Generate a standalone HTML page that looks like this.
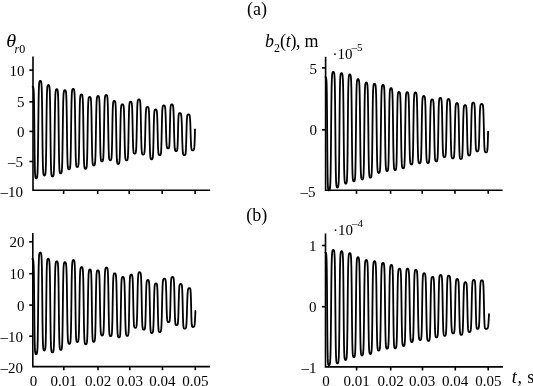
<!DOCTYPE html>
<html><head><meta charset="utf-8"><title>Figure</title>
<style>
html,body{margin:0;padding:0;background:#fff;}
body{width:533px;height:386px;overflow:hidden;}
svg{display:block;}
text{font-family:"Liberation Serif","Times New Roman",serif;fill:#000;}
</style></head><body>
<svg width="533" height="386" viewBox="0 0 533 386">
<defs><filter id="bl" x="-5%" y="-5%" width="110%" height="110%"><feGaussianBlur stdDeviation="0.3"/></filter></defs>
<rect width="533" height="386" fill="#fff"/>
<g filter="url(#bl)">
<g fill="none" stroke="#000" stroke-width="1.6" stroke-linecap="butt">
<path d="M33.0,56.6 V190.3 H210.2"/>
<path d="M29.4,70.1 H33.0"/>
<path d="M29.4,101.8 H33.0"/>
<path d="M29.4,131.4 H33.0"/>
<path d="M29.4,161.5 H33.0"/>
<path d="M63.6,190.3 V193.9"/>
<path d="M97.7,190.3 V193.9"/>
<path d="M129.2,190.3 V193.9"/>
<path d="M162.2,190.3 V193.9"/>
<path d="M195.1,190.3 V193.9"/>
<path d="M325.6,56.8 V190.2 H502.6"/>
<path d="M322.0,67.9 H325.6"/>
<path d="M322.0,129.8 H325.6"/>
<path d="M356.5,190.2 V193.8"/>
<path d="M390.6,190.2 V193.8"/>
<path d="M422.2,190.2 V193.8"/>
<path d="M455.0,190.2 V193.8"/>
<path d="M488.2,190.2 V193.8"/>
<path d="M32.8,233.0 V366.6 H210.0"/>
<path d="M29.2,241.8 H32.8"/>
<path d="M29.2,273.7 H32.8"/>
<path d="M29.2,305.1 H32.8"/>
<path d="M29.2,336.2 H32.8"/>
<path d="M63.8,366.6 V370.2"/>
<path d="M98.0,366.6 V370.2"/>
<path d="M129.8,366.6 V370.2"/>
<path d="M162.5,366.6 V370.2"/>
<path d="M195.3,366.6 V370.2"/>
<path d="M325.5,233.4 V366.9 H502.9"/>
<path d="M321.9,245.5 H325.5"/>
<path d="M321.9,306.7 H325.5"/>
<path d="M356.6,366.9 V370.5"/>
<path d="M390.7,366.9 V370.5"/>
<path d="M422.5,366.9 V370.5"/>
<path d="M455.3,366.9 V370.5"/>
<path d="M488.2,366.9 V370.5"/>
</g>
<g fill="none" stroke="#000" stroke-width="1.8" stroke-linejoin="round" stroke-linecap="round">
<path d="M32.60,86.80 32.80,86.84 33.00,86.99 33.20,87.31 33.40,87.99 33.60,89.45 33.80,92.70 34.00,99.67 34.20,113.01 34.40,132.60 34.60,152.19 34.80,165.53 35.00,172.50 35.20,175.75 35.40,177.21 35.60,177.89 35.80,178.21 36.00,178.36 36.20,178.40 36.43,178.36 36.66,178.20 36.88,177.86 37.11,177.14 37.34,175.57 37.57,172.12 37.79,164.68 38.02,150.48 38.25,129.60 38.48,108.72 38.71,94.52 38.93,87.08 39.16,83.63 39.39,82.06 39.62,81.34 39.84,81.00 40.07,80.84 40.30,80.80 40.53,80.84 40.76,80.99 40.98,81.32 41.21,82.03 41.44,83.54 41.67,86.89 41.89,94.11 42.12,107.89 42.35,128.15 42.58,148.41 42.81,162.19 43.03,169.41 43.26,172.76 43.49,174.27 43.72,174.98 43.94,175.31 44.17,175.46 44.40,175.50 44.62,175.46 44.84,175.32 45.07,175.00 45.29,174.33 45.51,172.88 45.73,169.68 45.96,162.78 46.18,149.61 46.40,130.25 46.62,110.89 46.84,97.72 47.07,90.82 47.29,87.62 47.51,86.17 47.73,85.50 47.96,85.18 48.18,85.04 48.40,85.00 48.63,85.04 48.86,85.19 49.08,85.51 49.31,86.18 49.54,87.65 49.77,90.89 49.99,97.86 50.22,111.18 50.45,130.75 50.68,150.32 50.91,163.64 51.13,170.61 51.36,173.85 51.59,175.32 51.82,175.99 52.04,176.31 52.27,176.46 52.50,176.50 52.74,176.46 52.98,176.32 53.22,176.02 53.46,175.37 53.69,173.97 53.93,170.88 54.17,164.23 54.41,151.52 54.65,132.85 54.89,114.18 55.13,101.47 55.37,94.82 55.61,91.73 55.84,90.33 56.08,89.68 56.32,89.38 56.56,89.24 56.80,89.20 57.01,89.24 57.22,89.37 57.43,89.67 57.64,90.29 57.86,91.64 58.07,94.62 58.28,101.03 58.49,113.29 58.70,131.30 58.91,149.31 59.12,161.57 59.33,167.98 59.54,170.96 59.76,172.31 59.97,172.93 60.18,173.23 60.39,173.36 60.60,173.40 60.84,173.36 61.08,173.23 61.32,172.94 61.56,172.32 61.79,170.99 62.03,168.05 62.27,161.71 62.51,149.60 62.75,131.80 62.99,114.00 63.23,101.89 63.47,95.55 63.71,92.61 63.94,91.28 64.18,90.66 64.42,90.37 64.66,90.24 64.90,90.20 65.13,90.24 65.36,90.36 65.58,90.64 65.81,91.22 66.04,92.49 66.27,95.29 66.49,101.32 66.72,112.83 66.95,129.75 67.18,146.67 67.41,158.18 67.63,164.21 67.86,167.01 68.09,168.28 68.32,168.86 68.54,169.14 68.77,169.26 69.00,169.30 69.23,169.26 69.47,169.14 69.70,168.86 69.93,168.26 70.17,166.97 70.40,164.12 70.63,157.99 70.87,146.27 71.10,129.05 71.33,111.83 71.57,100.11 71.80,93.98 72.03,91.13 72.27,89.84 72.50,89.24 72.73,88.96 72.97,88.84 73.20,88.80 73.43,88.84 73.66,88.96 73.88,89.23 74.11,89.81 74.34,91.07 74.57,93.83 74.79,99.79 75.02,111.17 75.25,127.90 75.48,144.63 75.71,156.01 75.93,161.97 76.16,164.73 76.39,165.99 76.62,166.57 76.84,166.84 77.07,166.96 77.30,167.00 77.53,166.97 77.76,166.85 77.98,166.60 78.21,166.06 78.44,164.90 78.67,162.33 78.89,156.81 79.12,146.26 79.35,130.75 79.58,115.24 79.81,104.69 80.03,99.17 80.26,96.60 80.49,95.44 80.72,94.90 80.94,94.65 81.17,94.53 81.40,94.50 81.63,94.53 81.86,94.65 82.08,94.91 82.31,95.46 82.54,96.66 82.77,99.29 82.99,104.96 83.22,115.79 83.45,131.70 83.68,147.61 83.91,158.44 84.13,164.11 84.36,166.74 84.59,167.94 84.82,168.49 85.04,168.75 85.27,168.87 85.50,168.90 85.73,168.87 85.97,168.75 86.20,168.50 86.43,167.97 86.67,166.81 86.90,164.27 87.13,158.78 87.37,148.30 87.60,132.90 87.83,117.50 88.07,107.02 88.30,101.53 88.53,98.99 88.77,97.83 89.00,97.30 89.23,97.05 89.47,96.93 89.70,96.90 89.93,96.93 90.16,97.04 90.38,97.28 90.61,97.79 90.84,98.89 91.07,101.31 91.29,106.54 91.52,116.53 91.75,131.20 91.98,145.87 92.21,155.86 92.43,161.09 92.66,163.51 92.89,164.61 93.12,165.12 93.34,165.36 93.57,165.47 93.80,165.50 94.04,165.47 94.28,165.36 94.52,165.12 94.76,164.60 94.99,163.49 95.23,161.03 95.47,155.73 95.71,145.62 95.95,130.75 96.19,115.88 96.43,105.77 96.67,100.47 96.91,98.01 97.14,96.90 97.38,96.38 97.62,96.14 97.86,96.03 98.10,96.00 98.31,96.03 98.52,96.13 98.73,96.36 98.94,96.85 99.16,97.89 99.37,100.21 99.58,105.19 99.79,114.71 100.00,128.70 100.21,142.69 100.42,152.21 100.63,157.19 100.84,159.51 101.06,160.55 101.27,161.04 101.48,161.27 101.69,161.37 101.90,161.40 102.14,161.37 102.38,161.27 102.62,161.03 102.86,160.54 103.09,159.48 103.33,157.13 103.57,152.07 103.81,142.40 104.05,128.20 104.29,114.00 104.53,104.33 104.77,99.27 105.01,96.92 105.24,95.86 105.48,95.37 105.72,95.13 105.96,95.03 106.20,95.00 106.43,95.03 106.66,95.13 106.88,95.36 107.11,95.84 107.34,96.89 107.57,99.20 107.79,104.18 108.02,113.68 108.25,127.65 108.48,141.62 108.71,151.12 108.93,156.10 109.16,158.41 109.39,159.46 109.62,159.94 109.84,160.17 110.07,160.27 110.30,160.30 110.52,160.27 110.74,160.18 110.97,159.97 111.19,159.53 111.41,158.58 111.63,156.48 111.86,151.95 112.08,143.31 112.30,130.60 112.52,117.89 112.74,109.25 112.97,104.72 113.19,102.62 113.41,101.67 113.63,101.23 113.86,101.02 114.08,100.93 114.30,100.90 114.52,100.93 114.73,101.03 114.95,101.25 115.17,101.72 115.38,102.73 115.60,104.96 115.82,109.77 116.03,118.95 116.25,132.45 116.47,145.95 116.68,155.13 116.90,159.94 117.12,162.17 117.33,163.18 117.55,163.65 117.77,163.87 117.98,163.97 118.20,164.00 118.43,163.97 118.67,163.88 118.90,163.67 119.13,163.23 119.37,162.27 119.60,160.16 119.83,155.61 120.07,146.92 120.30,134.15 120.53,121.38 120.77,112.69 121.00,108.14 121.23,106.03 121.47,105.07 121.70,104.63 121.93,104.42 122.17,104.33 122.40,104.30 122.63,104.33 122.87,104.41 123.10,104.61 123.33,105.02 123.57,105.92 123.80,107.90 124.03,112.17 124.27,120.32 124.50,132.30 124.73,144.28 124.97,152.43 125.20,156.70 125.43,158.68 125.67,159.58 125.90,159.99 126.13,160.19 126.37,160.27 126.60,160.30 126.82,160.27 127.04,160.18 127.27,159.98 127.49,159.54 127.71,158.60 127.93,156.53 128.16,152.06 128.38,143.53 128.60,131.00 128.82,118.47 129.04,109.94 129.27,105.47 129.49,103.40 129.71,102.46 129.93,102.02 130.16,101.82 130.38,101.73 130.60,101.70 130.83,101.72 131.06,101.81 131.28,101.99 131.51,102.37 131.74,103.21 131.97,105.05 132.19,109.01 132.42,116.58 132.65,127.70 132.88,138.82 133.11,146.39 133.33,150.35 133.56,152.19 133.79,153.03 134.02,153.41 134.24,153.59 134.47,153.68 134.70,153.70 134.93,153.68 135.17,153.59 135.40,153.40 135.63,153.00 135.87,152.13 136.10,150.21 136.33,146.07 136.57,138.17 136.80,126.55 137.03,114.93 137.27,107.03 137.50,102.89 137.73,100.97 137.97,100.10 138.20,99.70 138.43,99.51 138.67,99.42 138.90,99.40 139.13,99.43 139.37,99.51 139.60,99.70 139.83,100.11 140.07,101.00 140.30,102.95 140.53,107.16 140.77,115.19 141.00,127.00 141.23,138.81 141.47,146.84 141.70,151.05 141.93,153.00 142.17,153.89 142.40,154.30 142.63,154.49 142.87,154.57 143.10,154.60 143.34,154.58 143.59,154.50 143.83,154.34 144.08,153.98 144.32,153.22 144.57,151.53 144.81,147.90 145.06,140.95 145.30,130.75 145.54,120.55 145.79,113.60 146.03,109.97 146.28,108.28 146.52,107.52 146.77,107.16 147.01,107.00 147.26,106.92 147.50,106.90 147.73,106.92 147.96,107.01 148.18,107.19 148.41,107.58 148.64,108.42 148.87,110.27 149.09,114.26 149.32,121.89 149.55,133.10 149.78,144.31 150.01,151.94 150.23,155.93 150.46,157.78 150.69,158.62 150.92,159.01 151.14,159.19 151.37,159.28 151.60,159.30 151.82,159.28 152.04,159.20 152.27,159.02 152.49,158.66 152.71,157.86 152.93,156.09 153.16,152.30 153.38,145.05 153.60,134.40 153.82,123.75 154.04,116.50 154.27,112.71 154.49,110.94 154.71,110.14 154.93,109.78 155.16,109.60 155.38,109.52 155.60,109.50 155.83,109.52 156.06,109.59 156.28,109.75 156.51,110.09 156.74,110.82 156.97,112.44 157.19,115.92 157.42,122.57 157.65,132.35 157.88,142.13 158.11,148.78 158.33,152.26 158.56,153.88 158.79,154.61 159.02,154.95 159.24,155.11 159.47,155.18 159.70,155.20 159.93,155.18 160.16,155.10 160.38,154.92 160.61,154.56 160.84,153.76 161.07,151.99 161.29,148.20 161.52,140.95 161.75,130.30 161.98,119.65 162.21,112.40 162.43,108.61 162.66,106.84 162.89,106.04 163.12,105.68 163.34,105.50 163.57,105.42 163.80,105.40 164.04,105.42 164.28,105.49 164.52,105.64 164.76,105.96 164.99,106.65 165.23,108.17 165.47,111.44 165.71,117.70 165.95,126.90 166.19,136.10 166.43,142.36 166.67,145.63 166.91,147.15 167.14,147.84 167.38,148.16 167.62,148.31 167.86,148.38 168.10,148.40 168.31,148.38 168.51,148.31 168.72,148.16 168.92,147.83 169.13,147.13 169.33,145.57 169.54,142.22 169.74,135.81 169.95,126.40 170.16,116.99 170.36,110.58 170.57,107.23 170.77,105.67 170.98,104.97 171.18,104.64 171.39,104.49 171.59,104.42 171.80,104.40 172.04,104.42 172.29,104.49 172.53,104.66 172.78,105.01 173.02,105.76 173.27,107.41 173.51,110.98 173.76,117.79 174.00,127.80 174.24,137.81 174.49,144.62 174.73,148.19 174.98,149.84 175.22,150.59 175.47,150.94 175.71,151.11 175.96,151.18 176.20,151.20 176.40,151.18 176.60,151.12 176.80,150.99 177.00,150.71 177.20,150.10 177.40,148.75 177.60,145.85 177.80,140.30 178.00,132.15 178.20,124.00 178.40,118.45 178.60,115.55 178.80,114.20 179.00,113.59 179.20,113.31 179.40,113.18 179.60,113.12 179.80,113.10 180.06,113.12 180.31,113.19 180.57,113.33 180.82,113.64 181.08,114.32 181.33,115.81 181.59,119.02 181.84,125.14 182.10,134.15 182.36,143.16 182.61,149.28 182.87,152.49 183.12,153.98 183.38,154.66 183.63,154.97 183.89,155.11 184.14,155.18 184.40,155.20 184.62,155.18 184.84,155.12 185.07,154.97 185.29,154.67 185.51,154.02 185.73,152.57 185.96,149.47 186.18,143.53 186.40,134.80 186.62,126.07 186.84,120.13 187.07,117.03 187.29,115.58 187.51,114.93 187.73,114.63 187.96,114.48 188.18,114.42 188.40,114.40 188.64,114.42 188.89,114.47 189.13,114.60 189.38,114.87 189.62,115.44 189.87,116.72 190.11,119.46 190.36,124.70 190.60,132.40 190.84,140.10 191.09,145.34 191.33,148.08 191.58,149.36 191.82,149.93 192.07,150.20 192.31,150.33 192.56,150.38 192.80,150.40 192.92,150.40 193.04,150.38 193.17,150.36 193.29,150.31 193.41,150.26 193.53,150.17 193.66,150.04 193.78,149.86 193.90,149.59 194.02,149.18 194.14,148.59 194.27,147.70 194.39,146.39 194.51,144.50 194.63,141.86 194.76,138.38 194.88,134.13 195.00,129.40"/>
<path d="M325.50,77.00 325.69,77.05 325.88,77.23 326.07,77.63 326.26,78.47 326.44,80.29 326.63,84.30 326.82,92.94 327.01,109.44 327.20,133.70 327.39,157.96 327.58,174.46 327.77,183.10 327.96,187.11 328.14,188.93 328.33,189.77 328.52,190.17 328.71,190.35 328.90,190.40 329.14,190.35 329.39,190.16 329.63,189.74 329.88,188.87 330.12,186.96 330.37,182.77 330.61,173.73 330.86,156.47 331.10,131.10 331.34,105.73 331.59,88.47 331.83,79.43 332.08,75.24 332.32,73.33 332.57,72.46 332.81,72.04 333.06,71.85 333.30,71.80 333.53,71.85 333.76,72.03 333.98,72.44 334.21,73.30 334.44,75.15 334.67,79.25 334.89,88.06 335.12,104.90 335.35,129.65 335.58,154.40 335.81,171.24 336.03,180.05 336.26,184.15 336.49,186.00 336.72,186.86 336.94,187.27 337.17,187.45 337.40,187.50 337.63,187.45 337.86,187.27 338.08,186.87 338.31,186.02 338.54,184.19 338.77,180.14 338.99,171.42 339.22,154.77 339.45,130.30 339.68,105.83 339.91,89.18 340.13,80.46 340.36,76.41 340.59,74.58 340.82,73.73 341.04,73.33 341.27,73.15 341.50,73.10 341.74,73.15 341.98,73.32 342.22,73.71 342.46,74.53 342.69,76.30 342.93,80.22 343.17,88.64 343.41,104.74 343.65,128.40 343.89,152.06 344.13,168.16 344.37,176.58 344.61,180.50 344.84,182.27 345.08,183.09 345.32,183.48 345.56,183.65 345.80,183.70 346.02,183.65 346.24,183.48 346.47,183.10 346.69,182.29 346.91,180.53 347.13,176.67 347.36,168.34 347.58,152.43 347.80,129.05 348.02,105.67 348.24,89.76 348.47,81.43 348.69,77.57 348.91,75.81 349.13,75.00 349.36,74.62 349.58,74.45 349.80,74.40 350.03,74.45 350.26,74.62 350.48,74.99 350.71,75.78 350.94,77.50 351.17,81.29 351.39,89.44 351.62,105.01 351.85,127.90 352.08,150.79 352.31,166.36 352.53,174.51 352.76,178.30 352.99,180.02 353.22,180.81 353.44,181.18 353.67,181.35 353.90,181.40 354.13,181.35 354.36,181.19 354.58,180.83 354.81,180.08 355.04,178.44 355.27,174.82 355.49,167.02 355.72,152.13 355.95,130.25 356.18,108.37 356.41,93.48 356.63,85.68 356.86,82.06 357.09,80.42 357.32,79.67 357.54,79.31 357.77,79.15 358.00,79.10 358.24,79.15 358.48,79.30 358.72,79.65 358.96,80.40 359.19,82.01 359.43,85.56 359.67,93.21 359.91,107.82 360.15,129.30 360.39,150.78 360.63,165.39 360.87,173.04 361.11,176.59 361.34,178.20 361.58,178.95 361.82,179.30 362.06,179.45 362.30,179.50 362.52,179.46 362.74,179.30 362.97,178.96 363.19,178.25 363.41,176.69 363.63,173.26 363.86,165.87 364.08,151.75 364.30,131.00 364.52,110.25 364.74,96.13 364.97,88.74 365.19,85.31 365.41,83.75 365.63,83.04 365.86,82.70 366.08,82.54 366.30,82.50 366.53,82.54 366.76,82.69 366.98,83.03 367.21,83.73 367.44,85.26 367.67,88.63 367.89,95.88 368.12,109.74 368.35,130.10 368.58,150.46 368.81,164.32 369.03,171.57 369.26,174.94 369.49,176.47 369.72,177.17 369.94,177.51 370.17,177.66 370.40,177.70 370.63,177.66 370.86,177.51 371.08,177.18 371.31,176.49 371.54,174.98 371.77,171.66 371.99,164.50 372.22,150.84 372.45,130.75 372.68,110.66 372.91,97.00 373.13,89.84 373.36,86.52 373.59,85.01 373.82,84.32 374.04,83.99 374.27,83.84 374.50,83.80 374.74,83.84 374.98,83.98 375.22,84.29 375.46,84.95 375.69,86.38 375.93,89.54 376.17,96.34 376.41,109.32 376.65,128.40 376.89,147.48 377.13,160.46 377.37,167.26 377.61,170.42 377.84,171.85 378.08,172.51 378.32,172.82 378.56,172.96 378.80,173.00 379.03,172.96 379.27,172.82 379.50,172.51 379.73,171.86 379.97,170.45 380.20,167.33 380.43,160.62 380.67,147.80 380.90,128.95 381.13,110.10 381.37,97.28 381.60,90.57 381.83,87.45 382.07,86.04 382.30,85.39 382.53,85.08 382.77,84.94 383.00,84.90 383.23,84.94 383.46,85.07 383.68,85.38 383.91,86.02 384.14,87.40 384.37,90.45 384.59,97.01 384.82,109.56 385.05,128.00 385.28,146.44 385.51,158.99 385.73,165.55 385.96,168.60 386.19,169.98 386.42,170.62 386.64,170.93 386.87,171.06 387.10,171.10 387.32,171.06 387.53,170.93 387.75,170.64 387.97,170.03 388.18,168.70 388.40,165.76 388.62,159.43 388.83,147.35 389.05,129.60 389.27,111.85 389.48,99.77 389.70,93.44 389.92,90.50 390.13,89.17 390.35,88.56 390.57,88.27 390.78,88.14 391.00,88.10 391.23,88.14 391.47,88.27 391.70,88.55 391.93,89.16 392.17,90.48 392.40,93.38 392.63,99.64 392.87,111.59 393.10,129.15 393.33,146.71 393.57,158.66 393.80,164.92 394.03,167.82 394.27,169.14 394.50,169.75 394.73,170.03 394.97,170.16 395.20,170.20 395.41,170.16 395.61,170.04 395.82,169.77 396.02,169.19 396.23,167.93 396.43,165.16 396.64,159.20 396.84,147.80 397.05,131.05 397.26,114.30 397.46,102.90 397.67,96.94 397.87,94.17 398.08,92.91 398.28,92.33 398.49,92.06 398.69,91.94 398.90,91.90 399.14,91.93 399.38,92.05 399.62,92.32 399.86,92.89 400.09,94.11 400.33,96.82 400.57,102.64 400.81,113.76 401.05,130.10 401.29,146.44 401.53,157.56 401.77,163.38 402.01,166.09 402.24,167.31 402.48,167.88 402.72,168.15 402.96,168.27 403.20,168.30 403.42,168.27 403.64,168.15 403.87,167.88 404.09,167.32 404.31,166.10 404.53,163.40 404.76,157.60 404.98,146.53 405.20,130.25 405.42,113.97 405.64,102.90 405.87,97.10 406.09,94.40 406.31,93.18 406.53,92.62 406.76,92.35 406.98,92.23 407.20,92.20 407.43,92.23 407.67,92.35 407.90,92.60 408.13,93.14 408.37,94.29 408.60,96.85 408.83,102.36 409.07,112.88 409.30,128.35 409.53,143.82 409.77,154.34 410.00,159.85 410.23,162.41 410.47,163.56 410.70,164.10 410.93,164.35 411.17,164.47 411.40,164.50 411.62,164.47 411.84,164.35 412.07,164.10 412.29,163.57 412.51,162.41 412.73,159.86 412.96,154.37 413.18,143.87 413.40,128.45 413.62,113.03 413.84,102.53 414.07,97.04 414.29,94.49 414.51,93.33 414.73,92.80 414.96,92.55 415.18,92.43 415.40,92.40 415.63,92.43 415.87,92.54 416.10,92.79 416.33,93.32 416.57,94.45 416.80,96.96 417.03,102.36 417.27,112.68 417.50,127.85 417.73,143.02 417.97,153.34 418.20,158.74 418.43,161.25 418.67,162.38 418.90,162.91 419.13,163.16 419.37,163.27 419.60,163.30 419.83,163.27 420.07,163.16 420.30,162.93 420.53,162.43 420.77,161.35 421.00,158.97 421.23,153.84 421.47,144.05 421.70,129.65 421.93,115.25 422.17,105.46 422.40,100.33 422.63,97.95 422.87,96.87 423.10,96.37 423.33,96.14 423.57,96.03 423.80,96.00 424.03,96.03 424.26,96.14 424.48,96.37 424.71,96.87 424.94,97.94 425.17,100.32 425.39,105.43 425.62,115.20 425.85,129.55 426.08,143.90 426.31,153.67 426.53,158.78 426.76,161.16 426.99,162.23 427.22,162.73 427.44,162.96 427.67,163.07 427.90,163.10 428.14,163.07 428.38,162.97 428.62,162.75 428.86,162.28 429.09,161.25 429.33,159.00 429.57,154.15 429.81,144.88 430.05,131.25 430.29,117.62 430.53,108.35 430.77,103.50 431.01,101.25 431.24,100.22 431.48,99.75 431.72,99.53 431.96,99.43 432.20,99.40 432.43,99.43 432.66,99.53 432.88,99.74 433.11,100.20 433.34,101.20 433.57,103.39 433.79,108.11 434.02,117.14 434.25,130.40 434.48,143.66 434.71,152.69 434.93,157.41 435.16,159.60 435.39,160.60 435.62,161.06 435.84,161.27 436.07,161.37 436.30,161.40 436.52,161.37 436.74,161.27 436.97,161.05 437.19,160.58 437.41,159.56 437.63,157.31 437.86,152.48 438.08,143.23 438.30,129.65 438.52,116.07 438.74,106.82 438.97,101.99 439.19,99.74 439.41,98.72 439.63,98.25 439.86,98.03 440.08,97.93 440.30,97.90 440.53,97.93 440.76,98.02 440.98,98.23 441.21,98.67 441.44,99.62 441.67,101.71 441.89,106.22 442.12,114.84 442.35,127.50 442.58,140.16 442.81,148.78 443.03,153.29 443.26,155.38 443.49,156.33 443.72,156.77 443.94,156.98 444.17,157.07 444.40,157.10 444.63,157.07 444.86,156.98 445.08,156.78 445.31,156.35 445.54,155.42 445.77,153.36 445.99,148.93 446.22,140.48 446.45,128.05 446.68,115.62 446.91,107.17 447.13,102.74 447.36,100.68 447.59,99.75 447.82,99.32 448.04,99.12 448.27,99.03 448.50,99.00 448.74,99.03 448.98,99.12 449.22,99.33 449.46,99.77 449.69,100.72 449.93,102.82 450.17,107.35 450.41,115.99 450.65,128.70 450.89,141.41 451.13,150.05 451.37,154.58 451.61,156.68 451.84,157.63 452.08,158.07 452.32,158.28 452.56,158.37 452.80,158.40 453.03,158.37 453.27,158.29 453.50,158.09 453.73,157.68 453.97,156.80 454.20,154.84 454.43,150.63 454.67,142.58 454.90,130.75 455.13,118.92 455.37,110.87 455.60,106.66 455.83,104.70 456.07,103.82 456.30,103.41 456.53,103.21 456.77,103.13 457.00,103.10 457.22,103.13 457.43,103.21 457.65,103.41 457.87,103.82 458.08,104.72 458.30,106.70 458.52,110.96 458.73,119.09 458.95,131.05 459.17,143.01 459.38,151.14 459.60,155.40 459.82,157.38 460.03,158.28 460.25,158.69 460.47,158.89 460.68,158.97 460.90,159.00 461.13,158.98 461.37,158.89 461.60,158.70 461.83,158.30 462.07,157.44 462.30,155.53 462.53,151.42 462.77,143.58 463.00,132.05 463.23,120.52 463.47,112.68 463.70,108.57 463.93,106.66 464.17,105.80 464.40,105.40 464.63,105.21 464.87,105.12 465.10,105.10 465.32,105.12 465.54,105.20 465.77,105.38 465.99,105.75 466.21,106.56 466.43,108.34 466.66,112.18 466.88,119.52 467.10,130.30 467.32,141.08 467.54,148.42 467.77,152.26 467.99,154.04 468.21,154.85 468.43,155.22 468.66,155.40 468.88,155.48 469.10,155.50 469.33,155.48 469.57,155.39 469.80,155.21 470.03,154.82 470.27,153.97 470.50,152.10 470.73,148.07 470.97,140.37 471.20,129.05 471.43,117.73 471.67,110.03 471.90,106.00 472.13,104.13 472.37,103.28 472.60,102.89 472.83,102.71 473.07,102.62 473.30,102.60 473.52,102.62 473.73,102.70 473.95,102.87 474.17,103.23 474.38,104.01 474.60,105.74 474.82,109.46 475.03,116.56 475.25,127.00 475.47,137.44 475.68,144.54 475.90,148.26 476.12,149.99 476.33,150.77 476.55,151.13 476.77,151.30 476.98,151.38 477.20,151.40 477.45,151.38 477.70,151.30 477.95,151.14 478.20,150.79 478.45,150.02 478.70,148.34 478.95,144.72 479.20,137.81 479.45,127.65 479.70,117.49 479.95,110.58 480.20,106.96 480.45,105.28 480.70,104.51 480.95,104.16 481.20,104.00 481.45,103.92 481.70,103.90 481.94,103.92 482.18,104.00 482.42,104.17 482.66,104.53 482.89,105.31 483.13,107.02 483.37,110.72 483.61,117.78 483.85,128.15 484.09,138.52 484.33,145.58 484.57,149.28 484.81,150.99 485.04,151.77 485.28,152.13 485.52,152.30 485.76,152.38 486.00,152.40 486.12,152.40 486.23,152.38 486.35,152.36 486.47,152.32 486.58,152.26 486.70,152.17 486.82,152.04 486.93,151.86 487.05,151.59 487.17,151.19 487.28,150.60 487.40,149.72 487.52,148.43 487.63,146.55 487.75,143.94 487.87,140.50 487.98,136.29 488.10,131.60"/>
<path d="M32.40,259.00 32.61,259.04 32.81,259.19 33.02,259.53 33.22,260.23 33.43,261.76 33.63,265.13 33.84,272.38 34.04,286.24 34.25,306.60 34.46,326.96 34.66,340.82 34.87,348.07 35.07,351.44 35.28,352.97 35.48,353.67 35.69,354.01 35.89,354.16 36.10,354.20 36.33,354.15 36.57,353.99 36.80,353.64 37.03,352.88 37.27,351.25 37.50,347.65 37.73,339.91 37.97,325.10 38.20,303.35 38.43,281.60 38.67,266.79 38.90,259.05 39.13,255.45 39.37,253.82 39.60,253.06 39.83,252.71 40.07,252.55 40.30,252.50 40.52,252.54 40.74,252.70 40.97,253.04 41.19,253.77 41.41,255.34 41.63,258.81 41.86,266.27 42.08,280.54 42.30,301.50 42.52,322.46 42.74,336.73 42.97,344.19 43.19,347.66 43.41,349.23 43.63,349.96 43.86,350.30 44.08,350.46 44.30,350.50 44.52,350.46 44.73,350.31 44.95,349.99 45.17,349.31 45.38,347.84 45.60,344.59 45.82,337.60 46.03,324.24 46.25,304.60 46.47,284.96 46.68,271.60 46.90,264.61 47.12,261.36 47.33,259.89 47.55,259.21 47.77,258.89 47.98,258.74 48.20,258.70 48.43,258.74 48.67,258.89 48.90,259.22 49.13,259.91 49.37,261.41 49.60,264.73 49.83,271.87 50.07,285.51 50.30,305.55 50.53,325.59 50.77,339.23 51.00,346.37 51.23,349.69 51.47,351.19 51.70,351.88 51.93,352.21 52.17,352.36 52.40,352.40 52.64,352.36 52.89,352.22 53.13,351.90 53.38,351.22 53.62,349.76 53.87,346.54 54.11,339.60 54.36,326.34 54.60,306.85 54.84,287.36 55.09,274.10 55.33,267.16 55.58,263.94 55.82,262.48 56.07,261.80 56.31,261.48 56.56,261.34 56.80,261.30 57.02,261.34 57.24,261.48 57.47,261.79 57.69,262.45 57.91,263.87 58.13,267.00 58.36,273.75 58.58,286.65 58.80,305.60 59.02,324.55 59.24,337.45 59.47,344.20 59.69,347.33 59.91,348.75 60.13,349.41 60.36,349.72 60.58,349.86 60.80,349.90 61.03,349.86 61.26,349.72 61.48,349.42 61.71,348.77 61.94,347.36 62.17,344.26 62.39,337.57 62.62,324.81 62.85,306.05 63.08,287.29 63.31,274.53 63.53,267.84 63.76,264.74 63.99,263.33 64.22,262.68 64.44,262.38 64.67,262.24 64.90,262.20 65.14,262.24 65.39,262.37 65.63,262.65 65.88,263.26 66.12,264.57 66.37,267.46 66.61,273.68 66.86,285.57 67.10,303.05 67.34,320.53 67.59,332.42 67.83,338.64 68.08,341.53 68.32,342.84 68.57,343.45 68.81,343.73 69.06,343.86 69.30,343.90 69.53,343.86 69.77,343.73 70.00,343.44 70.23,342.81 70.47,341.47 70.70,338.50 70.93,332.11 71.17,319.90 71.40,301.95 71.63,284.00 71.87,271.79 72.10,265.40 72.33,262.43 72.57,261.09 72.80,260.46 73.03,260.17 73.27,260.04 73.50,260.00 73.71,260.04 73.92,260.17 74.13,260.45 74.34,261.06 74.56,262.38 74.77,265.28 74.98,271.52 75.19,283.46 75.40,301.00 75.61,318.54 75.82,330.48 76.03,336.72 76.24,339.62 76.46,340.94 76.67,341.55 76.88,341.83 77.09,341.96 77.30,342.00 77.54,341.97 77.78,341.85 78.02,341.59 78.26,341.03 78.49,339.83 78.73,337.18 78.97,331.47 79.21,320.57 79.45,304.55 79.69,288.53 79.93,277.63 80.17,271.92 80.41,269.27 80.64,268.07 80.88,267.51 81.12,267.25 81.36,267.13 81.60,267.10 81.83,267.13 82.07,267.26 82.30,267.53 82.53,268.10 82.77,269.34 83.00,272.07 83.23,277.95 83.47,289.19 83.70,305.70 83.93,322.21 84.17,333.45 84.40,339.33 84.63,342.06 84.87,343.30 85.10,343.87 85.33,344.14 85.57,344.27 85.80,344.30 86.03,344.27 86.27,344.15 86.50,343.89 86.73,343.33 86.97,342.13 87.20,339.48 87.43,333.77 87.67,322.87 87.90,306.85 88.13,290.83 88.37,279.93 88.60,274.22 88.83,271.57 89.07,270.37 89.30,269.81 89.53,269.55 89.77,269.43 90.00,269.40 90.21,269.43 90.41,269.55 90.62,269.80 90.82,270.34 91.03,271.50 91.23,274.07 91.44,279.59 91.64,290.14 91.85,305.65 92.06,321.16 92.26,331.71 92.47,337.23 92.67,339.80 92.88,340.96 93.08,341.50 93.29,341.75 93.49,341.87 93.70,341.90 93.93,341.87 94.17,341.75 94.40,341.50 94.63,340.97 94.87,339.83 95.10,337.29 95.33,331.84 95.57,321.42 95.80,306.10 96.03,290.78 96.27,280.36 96.50,274.91 96.73,272.37 96.97,271.23 97.20,270.70 97.43,270.45 97.67,270.33 97.90,270.30 98.13,270.33 98.37,270.43 98.60,270.66 98.83,271.14 99.07,272.19 99.30,274.50 99.53,279.46 99.77,288.95 100.00,302.90 100.23,316.85 100.47,326.34 100.70,331.30 100.93,333.61 101.17,334.66 101.40,335.14 101.63,335.37 101.87,335.47 102.10,335.50 102.34,335.47 102.59,335.36 102.83,335.12 103.08,334.62 103.32,333.53 103.57,331.12 103.81,325.94 104.06,316.05 104.30,301.50 104.54,286.95 104.79,277.06 105.03,271.88 105.28,269.47 105.52,268.38 105.77,267.88 106.01,267.64 106.26,267.53 106.50,267.50 106.73,267.53 106.96,267.64 107.18,267.88 107.41,268.39 107.64,269.49 107.87,271.92 108.09,277.16 108.32,287.15 108.55,301.85 108.78,316.55 109.01,326.54 109.23,331.78 109.46,334.21 109.69,335.31 109.92,335.82 110.14,336.06 110.37,336.17 110.60,336.20 110.83,336.17 111.06,336.07 111.28,335.85 111.51,335.39 111.74,334.38 111.97,332.15 112.19,327.36 112.42,318.20 112.65,304.75 112.88,291.30 113.11,282.14 113.33,277.35 113.56,275.12 113.79,274.11 114.02,273.65 114.24,273.43 114.47,273.33 114.70,273.30 114.94,273.33 115.18,273.43 115.42,273.65 115.66,274.13 115.89,275.16 116.13,277.43 116.37,282.31 116.61,291.64 116.85,305.35 117.09,319.06 117.33,328.39 117.57,333.27 117.81,335.54 118.04,336.57 118.28,337.05 118.52,337.27 118.76,337.37 119.00,337.40 119.21,337.37 119.42,337.28 119.63,337.07 119.84,336.62 120.06,335.65 120.27,333.51 120.48,328.90 120.69,320.09 120.90,307.15 121.11,294.21 121.32,285.40 121.53,280.79 121.74,278.65 121.96,277.68 122.17,277.23 122.38,277.02 122.59,276.93 122.80,276.90 123.05,276.93 123.30,277.02 123.55,277.23 123.80,277.66 124.05,278.61 124.30,280.70 124.55,285.19 124.80,293.78 125.05,306.40 125.30,319.02 125.55,327.61 125.80,332.10 126.05,334.19 126.30,335.14 126.55,335.57 126.80,335.78 127.05,335.87 127.30,335.90 127.52,335.87 127.73,335.78 127.95,335.56 128.17,335.11 128.38,334.12 128.60,331.95 128.82,327.28 129.03,318.36 129.25,305.25 129.47,292.14 129.68,283.22 129.90,278.55 130.12,276.38 130.33,275.39 130.55,274.94 130.77,274.72 130.98,274.63 131.20,274.60 131.43,274.62 131.66,274.71 131.88,274.89 132.11,275.29 132.34,276.14 132.57,278.02 132.79,282.08 133.02,289.82 133.25,301.20 133.48,312.58 133.71,320.32 133.93,324.38 134.16,326.26 134.39,327.11 134.62,327.51 134.84,327.69 135.07,327.78 135.30,327.80 135.54,327.77 135.78,327.69 136.02,327.49 136.26,327.08 136.49,326.19 136.73,324.22 136.97,319.99 137.21,311.89 137.45,300.00 137.69,288.11 137.93,280.01 138.17,275.78 138.41,273.81 138.64,272.92 138.88,272.51 139.12,272.31 139.36,272.23 139.60,272.20 139.83,272.23 140.07,272.32 140.30,272.52 140.53,272.94 140.77,273.87 141.00,275.90 141.23,280.28 141.47,288.65 141.70,300.95 141.93,313.25 142.17,321.62 142.40,326.00 142.63,328.03 142.87,328.96 143.10,329.38 143.33,329.58 143.57,329.67 143.80,329.70 144.03,329.68 144.26,329.60 144.48,329.43 144.71,329.06 144.94,328.26 145.17,326.50 145.39,322.71 145.62,315.48 145.85,304.85 146.08,294.22 146.31,286.99 146.53,283.20 146.76,281.44 146.99,280.64 147.22,280.27 147.44,280.10 147.67,280.02 147.90,280.00 148.12,280.02 148.33,280.11 148.55,280.29 148.77,280.69 148.98,281.54 149.20,283.41 149.42,287.45 149.63,295.16 149.85,306.50 150.07,317.84 150.28,325.55 150.50,329.59 150.72,331.46 150.93,332.31 151.15,332.71 151.37,332.89 151.58,332.98 151.80,333.00 152.03,332.98 152.27,332.90 152.50,332.73 152.73,332.36 152.97,331.56 153.20,329.81 153.43,326.03 153.67,318.81 153.90,308.20 154.13,297.59 154.37,290.37 154.60,286.59 154.83,284.84 155.07,284.04 155.30,283.67 155.53,283.50 155.77,283.42 156.00,283.40 156.21,283.42 156.41,283.50 156.62,283.67 156.82,284.03 157.03,284.81 157.23,286.53 157.44,290.24 157.64,297.33 157.85,307.75 158.06,318.17 158.26,325.26 158.47,328.97 158.67,330.69 158.88,331.47 159.08,331.83 159.29,332.00 159.49,332.08 159.70,332.10 159.96,332.08 160.22,331.99 160.48,331.80 160.74,331.41 161.01,330.55 161.27,328.66 161.53,324.59 161.79,316.82 162.05,305.40 162.31,293.98 162.57,286.21 162.83,282.14 163.09,280.25 163.36,279.39 163.62,279.00 163.88,278.81 164.14,278.72 164.40,278.70 164.63,278.72 164.86,278.79 165.08,278.94 165.31,279.26 165.54,279.96 165.77,281.50 165.99,284.81 166.22,291.15 166.45,300.45 166.68,309.75 166.91,316.09 167.13,319.40 167.36,320.94 167.59,321.64 167.82,321.96 168.04,322.11 168.27,322.18 168.50,322.20 168.72,322.18 168.94,322.11 169.17,321.95 169.39,321.61 169.61,320.89 169.83,319.28 170.06,315.83 170.28,309.24 170.50,299.55 170.72,289.86 170.94,283.27 171.17,279.82 171.39,278.21 171.61,277.49 171.83,277.15 172.06,276.99 172.28,276.92 172.50,276.90 172.73,276.92 172.96,277.00 173.18,277.17 173.41,277.52 173.64,278.30 173.87,280.01 174.09,283.69 174.32,290.72 174.55,301.05 174.78,311.38 175.01,318.41 175.23,322.09 175.46,323.80 175.69,324.58 175.92,324.93 176.14,325.10 176.37,325.18 176.60,325.20 176.83,325.18 177.06,325.12 177.28,324.97 177.51,324.67 177.74,324.01 177.97,322.55 178.19,319.41 178.42,313.41 178.65,304.60 178.88,295.79 179.11,289.79 179.33,286.65 179.56,285.19 179.79,284.53 180.02,284.23 180.24,284.08 180.47,284.02 180.70,284.00 180.92,284.02 181.14,284.09 181.37,284.25 181.59,284.58 181.81,285.30 182.03,286.88 182.26,290.28 182.48,296.79 182.70,306.35 182.92,315.91 183.14,322.42 183.37,325.82 183.59,327.40 183.81,328.12 184.03,328.45 184.26,328.61 184.48,328.68 184.70,328.70 184.96,328.68 185.22,328.62 185.48,328.48 185.74,328.17 186.01,327.52 186.27,326.09 186.53,322.99 186.79,317.08 187.05,308.40 187.31,299.72 187.57,293.81 187.83,290.71 188.09,289.28 188.36,288.63 188.62,288.32 188.88,288.18 189.14,288.12 189.40,288.10 189.59,288.12 189.79,288.18 189.98,288.31 190.18,288.60 190.37,289.23 190.57,290.60 190.76,293.57 190.96,299.23 191.15,307.55 191.34,315.87 191.54,321.53 191.73,324.50 191.93,325.87 192.12,326.50 192.32,326.79 192.51,326.92 192.71,326.98 192.90,327.00 193.04,327.00 193.18,326.99 193.32,326.97 193.46,326.94 193.59,326.89 193.73,326.82 193.87,326.73 194.01,326.59 194.15,326.38 194.29,326.07 194.43,325.62 194.57,324.94 194.71,323.94 194.84,322.50 194.98,320.49 195.12,317.85 195.26,314.60 195.40,311.00"/>
<path d="M325.40,252.50 325.59,252.55 325.79,252.73 325.98,253.12 326.18,253.96 326.37,255.77 326.57,259.77 326.76,268.37 326.96,284.80 327.15,308.95 327.34,333.10 327.54,349.53 327.73,358.13 327.93,362.13 328.12,363.94 328.32,364.78 328.51,365.17 328.71,365.35 328.90,365.40 329.14,365.35 329.39,365.17 329.63,364.76 329.88,363.91 330.12,362.05 330.37,357.97 330.61,349.17 330.86,332.36 331.10,307.65 331.34,282.94 331.59,266.13 331.83,257.33 332.08,253.25 332.32,251.39 332.57,250.54 332.81,250.13 333.06,249.95 333.30,249.90 333.53,249.95 333.76,250.13 333.98,250.53 334.21,251.37 334.44,253.19 334.67,257.20 334.89,265.85 335.12,282.37 335.35,306.65 335.58,330.93 335.81,347.45 336.03,356.10 336.26,360.11 336.49,361.93 336.72,362.77 336.94,363.17 337.17,363.35 337.40,363.40 337.64,363.35 337.88,363.17 338.12,362.78 338.36,361.95 338.59,360.15 338.83,356.18 339.07,347.63 339.31,331.30 339.55,307.30 339.79,283.30 340.03,266.97 340.27,258.42 340.51,254.45 340.74,252.65 340.98,251.82 341.22,251.43 341.46,251.25 341.70,251.20 341.91,251.25 342.12,251.42 342.33,251.80 342.54,252.61 342.76,254.35 342.97,258.20 343.18,266.49 343.39,282.33 343.60,305.60 343.81,328.87 344.02,344.71 344.23,353.00 344.44,356.85 344.66,358.59 344.87,359.40 345.08,359.78 345.29,359.95 345.50,360.00 345.74,359.95 345.98,359.78 346.22,359.41 346.46,358.62 346.69,356.90 346.93,353.12 347.17,344.98 347.41,329.42 347.65,306.55 347.89,283.68 348.13,268.12 348.37,259.98 348.61,256.20 348.84,254.48 349.08,253.69 349.32,253.32 349.56,253.15 349.80,253.10 350.03,253.15 350.26,253.31 350.48,253.68 350.71,254.45 350.94,256.12 351.17,259.80 351.39,267.73 351.62,282.88 351.85,305.15 352.08,327.42 352.31,342.57 352.53,350.50 352.76,354.18 352.99,355.85 353.22,356.62 353.44,356.99 353.67,357.15 353.90,357.20 354.13,357.15 354.36,357.00 354.58,356.65 354.81,355.91 355.04,354.30 355.27,350.76 355.49,343.15 355.72,328.59 355.95,307.20 356.18,285.81 356.41,271.25 356.63,263.64 356.86,260.10 357.09,258.49 357.32,257.75 357.54,257.40 357.77,257.25 358.00,257.20 358.22,257.24 358.44,257.40 358.67,257.74 358.89,258.47 359.11,260.05 359.33,263.53 359.56,271.02 359.78,285.32 360.00,306.35 360.22,327.38 360.44,341.68 360.67,349.17 360.89,352.65 361.11,354.23 361.33,354.96 361.56,355.30 361.78,355.46 362.00,355.50 362.24,355.46 362.48,355.31 362.72,354.97 362.96,354.26 363.19,352.73 363.43,349.35 363.67,342.08 363.91,328.18 364.15,307.75 364.39,287.32 364.63,273.42 364.87,266.15 365.11,262.77 365.34,261.24 365.58,260.53 365.82,260.19 366.06,260.04 366.30,260.00 366.53,260.04 366.76,260.19 366.98,260.52 367.21,261.22 367.44,262.72 367.67,266.05 367.89,273.21 368.12,286.89 368.35,307.00 368.58,327.11 368.81,340.79 369.03,347.95 369.26,351.28 369.49,352.78 369.72,353.48 369.94,353.81 370.17,353.96 370.40,354.00 370.63,353.96 370.86,353.81 371.08,353.49 371.31,352.80 371.54,351.31 371.77,348.03 371.99,340.96 372.22,327.45 372.45,307.60 372.68,287.75 372.91,274.24 373.13,267.17 373.36,263.89 373.59,262.40 373.82,261.71 374.04,261.39 374.27,261.24 374.50,261.20 374.73,261.24 374.97,261.38 375.20,261.69 375.43,262.36 375.67,263.79 375.90,266.95 376.13,273.76 376.37,286.78 376.60,305.90 376.83,325.02 377.07,338.04 377.30,344.85 377.53,348.01 377.77,349.44 378.00,350.11 378.23,350.42 378.47,350.56 378.70,350.60 378.94,350.56 379.18,350.42 379.42,350.12 379.66,349.47 379.89,348.06 380.13,344.96 380.37,338.27 380.61,325.51 380.85,306.75 381.09,287.99 381.33,275.23 381.57,268.54 381.81,265.44 382.04,264.03 382.28,263.38 382.52,263.08 382.76,262.94 383.00,262.90 383.23,262.94 383.46,263.07 383.68,263.37 383.91,264.01 384.14,265.39 384.37,268.42 384.59,274.96 384.82,287.45 385.05,305.80 385.28,324.15 385.51,336.64 385.73,343.18 385.96,346.21 386.19,347.59 386.42,348.23 386.64,348.53 386.87,348.66 387.10,348.70 387.34,348.66 387.58,348.53 387.82,348.24 388.06,347.62 388.29,346.27 388.53,343.31 388.77,336.92 389.01,324.73 389.25,306.80 389.49,288.87 389.73,276.68 389.97,270.29 390.21,267.33 390.44,265.98 390.68,265.36 390.92,265.07 391.16,264.94 391.40,264.90 391.61,264.94 391.82,265.07 392.03,265.36 392.24,265.98 392.46,267.32 392.67,270.27 392.88,276.64 393.09,288.79 393.30,306.65 393.51,324.51 393.72,336.66 393.93,343.03 394.14,345.98 394.36,347.32 394.57,347.94 394.78,348.23 394.99,348.36 395.20,348.40 395.44,348.36 395.68,348.24 395.92,347.96 396.16,347.37 396.39,346.09 396.63,343.27 396.87,337.20 397.11,325.60 397.35,308.55 397.59,291.50 397.83,279.90 398.07,273.83 398.31,271.01 398.54,269.73 398.78,269.14 399.02,268.86 399.26,268.74 399.50,268.70 399.73,268.74 399.96,268.86 400.18,269.13 400.41,269.70 400.64,270.94 400.87,273.68 401.09,279.58 401.32,290.84 401.55,307.40 401.78,323.96 402.01,335.22 402.23,341.12 402.46,343.86 402.69,345.10 402.92,345.67 403.14,345.94 403.37,346.06 403.60,346.10 403.82,346.06 404.03,345.94 404.25,345.67 404.47,345.10 404.68,343.86 404.90,341.12 405.12,335.22 405.33,323.96 405.55,307.40 405.77,290.84 405.98,279.58 406.20,273.68 406.42,270.94 406.63,269.70 406.85,269.13 407.07,268.86 407.28,268.74 407.50,268.70 407.74,268.73 407.99,268.85 408.23,269.11 408.48,269.65 408.72,270.83 408.97,273.42 409.21,279.02 409.46,289.70 409.70,305.40 409.94,321.10 410.19,331.78 410.43,337.38 410.68,339.97 410.92,341.15 411.17,341.69 411.41,341.95 411.66,342.07 411.90,342.10 412.12,342.07 412.33,341.95 412.55,341.70 412.77,341.16 412.98,340.01 413.20,337.45 413.42,331.94 413.63,321.42 413.85,305.95 414.07,290.48 414.28,279.96 414.50,274.45 414.72,271.89 414.93,270.74 415.15,270.20 415.37,269.95 415.58,269.83 415.80,269.80 416.04,269.83 416.29,269.94 416.53,270.19 416.78,270.71 417.02,271.84 417.27,274.32 417.51,279.68 417.76,289.91 418.00,304.95 418.24,319.99 418.49,330.22 418.73,335.58 418.98,338.06 419.22,339.19 419.47,339.71 419.71,339.96 419.96,340.07 420.20,340.10 420.42,340.07 420.63,339.96 420.85,339.73 421.07,339.23 421.28,338.16 421.50,335.79 421.72,330.70 421.93,320.96 422.15,306.65 422.37,292.34 422.58,282.60 422.80,277.51 423.02,275.14 423.23,274.07 423.45,273.57 423.67,273.34 423.88,273.23 424.10,273.20 424.34,273.23 424.59,273.34 424.83,273.57 425.08,274.08 425.32,275.16 425.57,277.56 425.81,282.71 426.06,292.57 426.30,307.05 426.54,321.53 426.79,331.39 427.03,336.54 427.28,338.94 427.52,340.02 427.77,340.53 428.01,340.76 428.26,340.87 428.50,340.90 428.73,340.87 428.96,340.77 429.18,340.55 429.41,340.07 429.64,339.05 429.87,336.78 430.09,331.91 430.32,322.59 430.55,308.90 430.78,295.21 431.01,285.89 431.23,281.02 431.46,278.75 431.69,277.73 431.92,277.25 432.14,277.03 432.37,276.93 432.60,276.90 432.82,276.93 433.03,277.02 433.25,277.23 433.47,277.68 433.68,278.65 433.90,280.79 434.12,285.40 434.33,294.21 434.55,307.15 434.77,320.09 434.98,328.90 435.20,333.51 435.42,335.65 435.63,336.62 435.85,337.07 436.07,337.28 436.28,337.37 436.50,337.40 436.73,337.37 436.96,337.27 437.18,337.06 437.41,336.59 437.64,335.59 437.87,333.38 438.09,328.63 438.32,319.55 438.55,306.20 438.78,292.85 439.01,283.77 439.23,279.02 439.46,276.81 439.69,275.81 439.92,275.34 440.14,275.13 440.37,275.03 440.60,275.00 440.83,275.03 441.07,275.12 441.30,275.34 441.53,275.79 441.77,276.76 442.00,278.92 442.23,283.56 442.47,292.42 442.70,305.45 442.93,318.48 443.17,327.34 443.40,331.98 443.63,334.14 443.87,335.11 444.10,335.56 444.33,335.78 444.57,335.87 444.80,335.90 445.02,335.87 445.23,335.78 445.45,335.57 445.67,335.12 445.88,334.15 446.10,332.02 446.32,327.43 446.53,318.65 446.75,305.75 446.97,292.85 447.18,284.07 447.40,279.48 447.62,277.35 447.83,276.38 448.05,275.93 448.27,275.72 448.48,275.63 448.70,275.60 448.95,275.63 449.20,275.72 449.45,275.92 449.70,276.35 449.95,277.27 450.20,279.32 450.45,283.72 450.70,292.14 450.95,304.50 451.20,316.86 451.45,325.28 451.70,329.68 451.95,331.73 452.20,332.65 452.45,333.08 452.70,333.28 452.95,333.37 453.20,333.40 453.42,333.38 453.64,333.29 453.87,333.10 454.09,332.70 454.31,331.82 454.53,329.90 454.76,325.75 454.98,317.84 455.20,306.20 455.42,294.56 455.64,286.65 455.87,282.50 456.09,280.58 456.31,279.70 456.53,279.30 456.76,279.11 456.98,279.02 457.20,279.00 457.43,279.03 457.66,279.11 457.88,279.31 458.11,279.72 458.34,280.62 458.57,282.60 458.79,286.86 459.02,294.99 459.25,306.95 459.48,318.91 459.71,327.04 459.93,331.30 460.16,333.28 460.39,334.18 460.62,334.59 460.84,334.79 461.07,334.87 461.30,334.90 461.53,334.88 461.76,334.79 461.98,334.61 462.21,334.22 462.44,333.37 462.67,331.51 462.89,327.49 463.12,319.82 463.35,308.55 463.58,297.28 463.81,289.61 464.03,285.59 464.26,283.73 464.49,282.88 464.72,282.49 464.94,282.31 465.17,282.22 465.40,282.20 465.62,282.22 465.84,282.30 466.07,282.48 466.29,282.85 466.51,283.65 466.73,285.41 466.96,289.21 467.18,296.48 467.40,307.15 467.62,317.82 467.84,325.09 468.07,328.89 468.29,330.65 468.51,331.45 468.73,331.82 468.96,332.00 469.18,332.08 469.40,332.10 469.65,332.08 469.90,331.99 470.15,331.81 470.40,331.42 470.65,330.59 470.90,328.74 471.15,324.76 471.40,317.17 471.65,306.00 471.90,294.83 472.15,287.24 472.40,283.26 472.65,281.41 472.90,280.58 473.15,280.19 473.40,280.01 473.65,279.92 473.90,279.90 474.11,279.92 474.31,280.00 474.52,280.17 474.72,280.53 474.93,281.32 475.13,283.05 475.34,286.79 475.54,293.92 475.75,304.40 475.96,314.88 476.16,322.01 476.37,325.75 476.57,327.48 476.78,328.27 476.98,328.63 477.19,328.80 477.39,328.88 477.60,328.90 477.84,328.88 478.08,328.80 478.32,328.63 478.56,328.27 478.79,327.49 479.03,325.77 479.27,322.07 479.51,315.00 479.75,304.60 479.99,294.20 480.23,287.13 480.47,283.43 480.71,281.71 480.94,280.93 481.18,280.57 481.42,280.40 481.66,280.32 481.90,280.30 482.13,280.32 482.36,280.40 482.58,280.57 482.81,280.93 483.04,281.71 483.27,283.43 483.49,287.13 483.72,294.20 483.95,304.60 484.18,315.00 484.41,322.07 484.63,325.77 484.86,327.49 485.09,328.27 485.32,328.63 485.54,328.80 485.77,328.88 486.00,328.90 486.17,328.90 486.33,328.89 486.50,328.87 486.67,328.84 486.83,328.80 487.00,328.74 487.17,328.65 487.33,328.52 487.50,328.33 487.67,328.05 487.83,327.63 488.00,327.01 488.17,326.09 488.33,324.77 488.50,322.92 488.67,320.49 488.83,317.51 489.00,314.20"/>
</g>
<g>
<text x="24.6" y="75.7" text-anchor="end" font-size="15">10</text>
<text x="24.6" y="107.4" text-anchor="end" font-size="15">5</text>
<text x="24.6" y="137.0" text-anchor="end" font-size="15">0</text>
<text x="23.1" y="167.1" text-anchor="end" font-size="15">–5</text>
<text x="23.1" y="196.6" text-anchor="end" font-size="15">–10</text>
<text x="316.9" y="73.5" text-anchor="end" font-size="15">5</text>
<text x="316.9" y="135.4" text-anchor="end" font-size="15">0</text>
<text x="315.4" y="196.6" text-anchor="end" font-size="15">–5</text>
<text x="24.5" y="247.4" text-anchor="end" font-size="15">20</text>
<text x="24.5" y="279.3" text-anchor="end" font-size="15">10</text>
<text x="24.5" y="310.7" text-anchor="end" font-size="15">0</text>
<text x="23.0" y="341.8" text-anchor="end" font-size="15">–10</text>
<text x="23.0" y="372.6" text-anchor="end" font-size="15">–20</text>
<text x="316.5" y="251.1" text-anchor="end" font-size="15">1</text>
<text x="316.5" y="312.3" text-anchor="end" font-size="15">0</text>
<text x="316.5" y="373.1" text-anchor="end" font-size="15">–1</text>
<text x="33.4" y="386.0" text-anchor="middle" font-size="15">0</text>
<text x="63.7" y="386.0" text-anchor="middle" font-size="15">0.01</text>
<text x="98.0" y="386.0" text-anchor="middle" font-size="15">0.02</text>
<text x="129.8" y="386.0" text-anchor="middle" font-size="15">0.03</text>
<text x="162.4" y="386.0" text-anchor="middle" font-size="15">0.04</text>
<text x="195.3" y="386.0" text-anchor="middle" font-size="15">0.05</text>
<text x="326.1" y="386.0" text-anchor="middle" font-size="15">0</text>
<text x="356.6" y="386.0" text-anchor="middle" font-size="15">0.01</text>
<text x="390.6" y="386.0" text-anchor="middle" font-size="15">0.02</text>
<text x="422.2" y="386.0" text-anchor="middle" font-size="15">0.03</text>
<text x="455.0" y="386.0" text-anchor="middle" font-size="15">0.04</text>
<text x="488.3" y="386.0" text-anchor="middle" font-size="15">0.05</text>
<text x="247" y="15.3" font-size="18">(a)</text>
<text x="246.3" y="221.2" font-size="18">(b)</text>
<text x="0" y="0" font-size="18" font-style="italic" transform="translate(6.2,46.6) scale(1.12,1)">θ</text>
<text x="14.6" y="53" font-size="12"><tspan font-style="italic">r</tspan>0</text>
<text x="265" y="46.8" font-size="18"><tspan font-style="italic">b</tspan><tspan font-size="12" dy="5.5">2</tspan><tspan dy="-5.5" letter-spacing="-0.3">(</tspan><tspan font-style="italic" letter-spacing="-0.3">t</tspan><tspan letter-spacing="-0.3">), m</tspan></text>
<text x="332.6" y="58.8" font-size="15">·10<tspan font-size="11" dy="-8.3" dx="-1">–5</tspan></text>
<text x="333.1" y="235.2" font-size="15">·10<tspan font-size="11" dy="-8.3" dx="-1">–4</tspan></text>
<text x="511.8" y="382.6" font-size="18"><tspan font-style="italic">t</tspan><tspan dx="0.6">,</tspan><tspan dx="0.8"> s</tspan></text>
</g>
</g>
</svg>
</body></html>
